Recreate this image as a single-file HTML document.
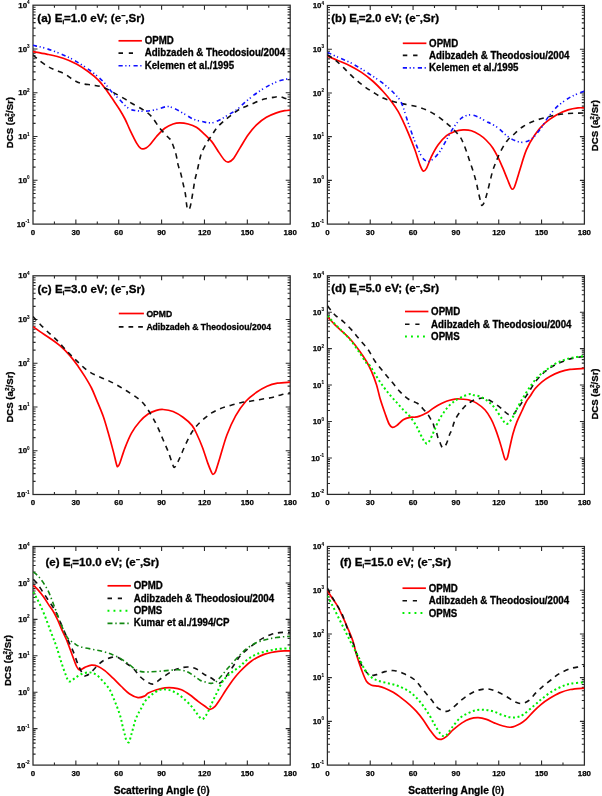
<!DOCTYPE html>
<html><head><meta charset="utf-8"><style>
html,body{margin:0;padding:0;background:#fff;}
svg{display:block;will-change:transform;}
text{font-family:"Liberation Sans", sans-serif;font-weight:bold;fill:#000;stroke:#000;stroke-width:0.3px;}
.t{font-size:7.9px;stroke-width:0.25px;}
.sup{font-size:4.6px;stroke-width:0.1px;}
.ti{font-size:11.6px;}
.sub{font-size:6px;}
.sup2{font-size:7px;}
.lg{font-size:9.7px;}
.yl{font-size:9.6px;}
.sub2{font-size:6px;}
.sup3{font-size:6px;}
.xl{font-size:10.2px;}
.th{font-weight:normal;}
</style></head><body>
<svg width="602" height="796" viewBox="0 0 602 796">
<defs><clipPath id="clipa"><rect x="33.0" y="4.2" width="257.2" height="219.9"/></clipPath><clipPath id="clipb"><rect x="327.4" y="4.5" width="257.0" height="219.6"/></clipPath><clipPath id="clipc"><rect x="33.0" y="274.8" width="257.2" height="219.7"/></clipPath><clipPath id="clipd"><rect x="327.4" y="274.75" width="257.0" height="219.64999999999998"/></clipPath><clipPath id="clipe"><rect x="33.0" y="545.5" width="257.2" height="219.60000000000002"/></clipPath><clipPath id="clipf"><rect x="327.4" y="545.5" width="257.0" height="219.60000000000002"/></clipPath></defs>
<rect width="602" height="796" fill="#fff"/>
<rect x="33.00" y="5.20" width="257.20" height="218.90" fill="none" stroke="#2a2a2a" stroke-width="1.25"/>
<path d="M54.43 224.10v-2.6M54.43 5.20v2.6M75.87 224.10v-4.5M75.87 5.20v4.5M97.30 224.10v-2.6M97.30 5.20v2.6M118.73 224.10v-4.5M118.73 5.20v4.5M140.17 224.10v-2.6M140.17 5.20v2.6M161.60 224.10v-4.5M161.60 5.20v4.5M183.03 224.10v-2.6M183.03 5.20v2.6M204.47 224.10v-4.5M204.47 5.20v4.5M225.90 224.10v-2.6M225.90 5.20v2.6M247.33 224.10v-4.5M247.33 5.20v4.5M268.77 224.10v-2.6M268.77 5.20v2.6M33.00 210.92h2.6M290.20 210.92h-2.6M33.00 203.21h2.6M290.20 203.21h-2.6M33.00 197.74h2.6M290.20 197.74h-2.6M33.00 193.50h2.6M290.20 193.50h-2.6M33.00 190.03h2.6M290.20 190.03h-2.6M33.00 187.10h2.6M290.20 187.10h-2.6M33.00 184.56h2.6M290.20 184.56h-2.6M33.00 182.32h2.6M290.20 182.32h-2.6M33.00 180.32h4.5M290.20 180.32h-4.5M33.00 167.14h2.6M290.20 167.14h-2.6M33.00 159.43h2.6M290.20 159.43h-2.6M33.00 153.96h2.6M290.20 153.96h-2.6M33.00 149.72h2.6M290.20 149.72h-2.6M33.00 146.25h2.6M290.20 146.25h-2.6M33.00 143.32h2.6M290.20 143.32h-2.6M33.00 140.78h2.6M290.20 140.78h-2.6M33.00 138.54h2.6M290.20 138.54h-2.6M33.00 136.54h4.5M290.20 136.54h-4.5M33.00 123.36h2.6M290.20 123.36h-2.6M33.00 115.65h2.6M290.20 115.65h-2.6M33.00 110.18h2.6M290.20 110.18h-2.6M33.00 105.94h2.6M290.20 105.94h-2.6M33.00 102.47h2.6M290.20 102.47h-2.6M33.00 99.54h2.6M290.20 99.54h-2.6M33.00 97.00h2.6M290.20 97.00h-2.6M33.00 94.76h2.6M290.20 94.76h-2.6M33.00 92.76h4.5M290.20 92.76h-4.5M33.00 79.58h2.6M290.20 79.58h-2.6M33.00 71.87h2.6M290.20 71.87h-2.6M33.00 66.40h2.6M290.20 66.40h-2.6M33.00 62.16h2.6M290.20 62.16h-2.6M33.00 58.69h2.6M290.20 58.69h-2.6M33.00 55.76h2.6M290.20 55.76h-2.6M33.00 53.22h2.6M290.20 53.22h-2.6M33.00 50.98h2.6M290.20 50.98h-2.6M33.00 48.98h4.5M290.20 48.98h-4.5M33.00 35.80h2.6M290.20 35.80h-2.6M33.00 28.09h2.6M290.20 28.09h-2.6M33.00 22.62h2.6M290.20 22.62h-2.6M33.00 18.38h2.6M290.20 18.38h-2.6M33.00 14.91h2.6M290.20 14.91h-2.6M33.00 11.98h2.6M290.20 11.98h-2.6M33.00 9.44h2.6M290.20 9.44h-2.6M33.00 7.20h2.6M290.20 7.20h-2.6" stroke="#2a2a2a" stroke-width="1.1" fill="none"/>
<text x="33.00" y="234.60" text-anchor="middle" class="t">0</text>
<text x="75.87" y="234.60" text-anchor="middle" class="t">30</text>
<text x="118.73" y="234.60" text-anchor="middle" class="t">60</text>
<text x="161.60" y="234.60" text-anchor="middle" class="t">90</text>
<text x="204.47" y="234.60" text-anchor="middle" class="t">120</text>
<text x="247.33" y="234.60" text-anchor="middle" class="t">150</text>
<text x="290.20" y="234.60" text-anchor="middle" class="t">180</text>
<text x="29.60" y="226.70" text-anchor="end" class="t">10<tspan class="sup" dy="-3.6">-1</tspan></text>
<text x="29.60" y="182.92" text-anchor="end" class="t">10<tspan class="sup" dy="-3.6">0</tspan></text>
<text x="29.60" y="139.14" text-anchor="end" class="t">10<tspan class="sup" dy="-3.6">1</tspan></text>
<text x="29.60" y="95.36" text-anchor="end" class="t">10<tspan class="sup" dy="-3.6">2</tspan></text>
<text x="29.60" y="51.58" text-anchor="end" class="t">10<tspan class="sup" dy="-3.6">3</tspan></text>
<text x="29.60" y="7.80" text-anchor="end" class="t">10<tspan class="sup" dy="-3.6">4</tspan></text>
<rect x="327.40" y="5.50" width="257.00" height="218.60" fill="none" stroke="#2a2a2a" stroke-width="1.25"/>
<path d="M348.82 224.10v-2.6M348.82 5.50v2.6M370.23 224.10v-4.5M370.23 5.50v4.5M391.65 224.10v-2.6M391.65 5.50v2.6M413.07 224.10v-4.5M413.07 5.50v4.5M434.48 224.10v-2.6M434.48 5.50v2.6M455.90 224.10v-4.5M455.90 5.50v4.5M477.32 224.10v-2.6M477.32 5.50v2.6M498.73 224.10v-4.5M498.73 5.50v4.5M520.15 224.10v-2.6M520.15 5.50v2.6M541.57 224.10v-4.5M541.57 5.50v4.5M562.98 224.10v-2.6M562.98 5.50v2.6M327.40 210.94h2.6M584.40 210.94h-2.6M327.40 203.24h2.6M584.40 203.24h-2.6M327.40 197.78h2.6M584.40 197.78h-2.6M327.40 193.54h2.6M584.40 193.54h-2.6M327.40 190.08h2.6M584.40 190.08h-2.6M327.40 187.15h2.6M584.40 187.15h-2.6M327.40 184.62h2.6M584.40 184.62h-2.6M327.40 182.38h2.6M584.40 182.38h-2.6M327.40 180.38h4.5M584.40 180.38h-4.5M327.40 167.22h2.6M584.40 167.22h-2.6M327.40 159.52h2.6M584.40 159.52h-2.6M327.40 154.06h2.6M584.40 154.06h-2.6M327.40 149.82h2.6M584.40 149.82h-2.6M327.40 146.36h2.6M584.40 146.36h-2.6M327.40 143.43h2.6M584.40 143.43h-2.6M327.40 140.90h2.6M584.40 140.90h-2.6M327.40 138.66h2.6M584.40 138.66h-2.6M327.40 136.66h4.5M584.40 136.66h-4.5M327.40 123.50h2.6M584.40 123.50h-2.6M327.40 115.80h2.6M584.40 115.80h-2.6M327.40 110.34h2.6M584.40 110.34h-2.6M327.40 106.10h2.6M584.40 106.10h-2.6M327.40 102.64h2.6M584.40 102.64h-2.6M327.40 99.71h2.6M584.40 99.71h-2.6M327.40 97.18h2.6M584.40 97.18h-2.6M327.40 94.94h2.6M584.40 94.94h-2.6M327.40 92.94h4.5M584.40 92.94h-4.5M327.40 79.78h2.6M584.40 79.78h-2.6M327.40 72.08h2.6M584.40 72.08h-2.6M327.40 66.62h2.6M584.40 66.62h-2.6M327.40 62.38h2.6M584.40 62.38h-2.6M327.40 58.92h2.6M584.40 58.92h-2.6M327.40 55.99h2.6M584.40 55.99h-2.6M327.40 53.46h2.6M584.40 53.46h-2.6M327.40 51.22h2.6M584.40 51.22h-2.6M327.40 49.22h4.5M584.40 49.22h-4.5M327.40 36.06h2.6M584.40 36.06h-2.6M327.40 28.36h2.6M584.40 28.36h-2.6M327.40 22.90h2.6M584.40 22.90h-2.6M327.40 18.66h2.6M584.40 18.66h-2.6M327.40 15.20h2.6M584.40 15.20h-2.6M327.40 12.27h2.6M584.40 12.27h-2.6M327.40 9.74h2.6M584.40 9.74h-2.6M327.40 7.50h2.6M584.40 7.50h-2.6" stroke="#2a2a2a" stroke-width="1.1" fill="none"/>
<text x="327.40" y="234.60" text-anchor="middle" class="t">0</text>
<text x="370.23" y="234.60" text-anchor="middle" class="t">30</text>
<text x="413.07" y="234.60" text-anchor="middle" class="t">60</text>
<text x="455.90" y="234.60" text-anchor="middle" class="t">90</text>
<text x="498.73" y="234.60" text-anchor="middle" class="t">120</text>
<text x="541.57" y="234.60" text-anchor="middle" class="t">150</text>
<text x="584.40" y="234.60" text-anchor="middle" class="t">180</text>
<text x="324.00" y="226.70" text-anchor="end" class="t">10<tspan class="sup" dy="-3.6">-1</tspan></text>
<text x="324.00" y="182.98" text-anchor="end" class="t">10<tspan class="sup" dy="-3.6">0</tspan></text>
<text x="324.00" y="139.26" text-anchor="end" class="t">10<tspan class="sup" dy="-3.6">1</tspan></text>
<text x="324.00" y="95.54" text-anchor="end" class="t">10<tspan class="sup" dy="-3.6">2</tspan></text>
<text x="324.00" y="51.82" text-anchor="end" class="t">10<tspan class="sup" dy="-3.6">3</tspan></text>
<text x="324.00" y="8.10" text-anchor="end" class="t">10<tspan class="sup" dy="-3.6">4</tspan></text>
<rect x="33.00" y="275.80" width="257.20" height="218.70" fill="none" stroke="#2a2a2a" stroke-width="1.25"/>
<path d="M54.43 494.50v-2.6M54.43 275.80v2.6M75.87 494.50v-4.5M75.87 275.80v4.5M97.30 494.50v-2.6M97.30 275.80v2.6M118.73 494.50v-4.5M118.73 275.80v4.5M140.17 494.50v-2.6M140.17 275.80v2.6M161.60 494.50v-4.5M161.60 275.80v4.5M183.03 494.50v-2.6M183.03 275.80v2.6M204.47 494.50v-4.5M204.47 275.80v4.5M225.90 494.50v-2.6M225.90 275.80v2.6M247.33 494.50v-4.5M247.33 275.80v4.5M268.77 494.50v-2.6M268.77 275.80v2.6M33.00 481.33h2.6M290.20 481.33h-2.6M33.00 473.63h2.6M290.20 473.63h-2.6M33.00 468.17h2.6M290.20 468.17h-2.6M33.00 463.93h2.6M290.20 463.93h-2.6M33.00 460.46h2.6M290.20 460.46h-2.6M33.00 457.54h2.6M290.20 457.54h-2.6M33.00 455.00h2.6M290.20 455.00h-2.6M33.00 452.76h2.6M290.20 452.76h-2.6M33.00 450.76h4.5M290.20 450.76h-4.5M33.00 437.59h2.6M290.20 437.59h-2.6M33.00 429.89h2.6M290.20 429.89h-2.6M33.00 424.43h2.6M290.20 424.43h-2.6M33.00 420.19h2.6M290.20 420.19h-2.6M33.00 416.72h2.6M290.20 416.72h-2.6M33.00 413.80h2.6M290.20 413.80h-2.6M33.00 411.26h2.6M290.20 411.26h-2.6M33.00 409.02h2.6M290.20 409.02h-2.6M33.00 407.02h4.5M290.20 407.02h-4.5M33.00 393.85h2.6M290.20 393.85h-2.6M33.00 386.15h2.6M290.20 386.15h-2.6M33.00 380.69h2.6M290.20 380.69h-2.6M33.00 376.45h2.6M290.20 376.45h-2.6M33.00 372.98h2.6M290.20 372.98h-2.6M33.00 370.06h2.6M290.20 370.06h-2.6M33.00 367.52h2.6M290.20 367.52h-2.6M33.00 365.28h2.6M290.20 365.28h-2.6M33.00 363.28h4.5M290.20 363.28h-4.5M33.00 350.11h2.6M290.20 350.11h-2.6M33.00 342.41h2.6M290.20 342.41h-2.6M33.00 336.95h2.6M290.20 336.95h-2.6M33.00 332.71h2.6M290.20 332.71h-2.6M33.00 329.24h2.6M290.20 329.24h-2.6M33.00 326.32h2.6M290.20 326.32h-2.6M33.00 323.78h2.6M290.20 323.78h-2.6M33.00 321.54h2.6M290.20 321.54h-2.6M33.00 319.54h4.5M290.20 319.54h-4.5M33.00 306.37h2.6M290.20 306.37h-2.6M33.00 298.67h2.6M290.20 298.67h-2.6M33.00 293.21h2.6M290.20 293.21h-2.6M33.00 288.97h2.6M290.20 288.97h-2.6M33.00 285.50h2.6M290.20 285.50h-2.6M33.00 282.58h2.6M290.20 282.58h-2.6M33.00 280.04h2.6M290.20 280.04h-2.6M33.00 277.80h2.6M290.20 277.80h-2.6" stroke="#2a2a2a" stroke-width="1.1" fill="none"/>
<text x="33.00" y="505.00" text-anchor="middle" class="t">0</text>
<text x="75.87" y="505.00" text-anchor="middle" class="t">30</text>
<text x="118.73" y="505.00" text-anchor="middle" class="t">60</text>
<text x="161.60" y="505.00" text-anchor="middle" class="t">90</text>
<text x="204.47" y="505.00" text-anchor="middle" class="t">120</text>
<text x="247.33" y="505.00" text-anchor="middle" class="t">150</text>
<text x="290.20" y="505.00" text-anchor="middle" class="t">180</text>
<text x="29.60" y="497.10" text-anchor="end" class="t">10<tspan class="sup" dy="-3.6">-1</tspan></text>
<text x="29.60" y="453.36" text-anchor="end" class="t">10<tspan class="sup" dy="-3.6">0</tspan></text>
<text x="29.60" y="409.62" text-anchor="end" class="t">10<tspan class="sup" dy="-3.6">1</tspan></text>
<text x="29.60" y="365.88" text-anchor="end" class="t">10<tspan class="sup" dy="-3.6">2</tspan></text>
<text x="29.60" y="322.14" text-anchor="end" class="t">10<tspan class="sup" dy="-3.6">3</tspan></text>
<text x="29.60" y="278.40" text-anchor="end" class="t">10<tspan class="sup" dy="-3.6">4</tspan></text>
<rect x="327.40" y="275.75" width="257.00" height="218.65" fill="none" stroke="#2a2a2a" stroke-width="1.25"/>
<path d="M348.82 494.40v-2.6M348.82 275.75v2.6M370.23 494.40v-4.5M370.23 275.75v4.5M391.65 494.40v-2.6M391.65 275.75v2.6M413.07 494.40v-4.5M413.07 275.75v4.5M434.48 494.40v-2.6M434.48 275.75v2.6M455.90 494.40v-4.5M455.90 275.75v4.5M477.32 494.40v-2.6M477.32 275.75v2.6M498.73 494.40v-4.5M498.73 275.75v4.5M520.15 494.40v-2.6M520.15 275.75v2.6M541.57 494.40v-4.5M541.57 275.75v4.5M562.98 494.40v-2.6M562.98 275.75v2.6M327.40 483.43h2.6M584.40 483.43h-2.6M327.40 477.01h2.6M584.40 477.01h-2.6M327.40 472.46h2.6M584.40 472.46h-2.6M327.40 468.93h2.6M584.40 468.93h-2.6M327.40 466.04h2.6M584.40 466.04h-2.6M327.40 463.60h2.6M584.40 463.60h-2.6M327.40 461.49h2.6M584.40 461.49h-2.6M327.40 459.63h2.6M584.40 459.63h-2.6M327.40 457.96h4.5M584.40 457.96h-4.5M327.40 446.99h2.6M584.40 446.99h-2.6M327.40 440.57h2.6M584.40 440.57h-2.6M327.40 436.02h2.6M584.40 436.02h-2.6M327.40 432.49h2.6M584.40 432.49h-2.6M327.40 429.60h2.6M584.40 429.60h-2.6M327.40 427.16h2.6M584.40 427.16h-2.6M327.40 425.05h2.6M584.40 425.05h-2.6M327.40 423.18h2.6M584.40 423.18h-2.6M327.40 421.52h4.5M584.40 421.52h-4.5M327.40 410.55h2.6M584.40 410.55h-2.6M327.40 404.13h2.6M584.40 404.13h-2.6M327.40 399.58h2.6M584.40 399.58h-2.6M327.40 396.05h2.6M584.40 396.05h-2.6M327.40 393.16h2.6M584.40 393.16h-2.6M327.40 390.72h2.6M584.40 390.72h-2.6M327.40 388.61h2.6M584.40 388.61h-2.6M327.40 386.74h2.6M584.40 386.74h-2.6M327.40 385.07h4.5M584.40 385.07h-4.5M327.40 374.10h2.6M584.40 374.10h-2.6M327.40 367.69h2.6M584.40 367.69h-2.6M327.40 363.13h2.6M584.40 363.13h-2.6M327.40 359.60h2.6M584.40 359.60h-2.6M327.40 356.72h2.6M584.40 356.72h-2.6M327.40 354.28h2.6M584.40 354.28h-2.6M327.40 352.16h2.6M584.40 352.16h-2.6M327.40 350.30h2.6M584.40 350.30h-2.6M327.40 348.63h4.5M584.40 348.63h-4.5M327.40 337.66h2.6M584.40 337.66h-2.6M327.40 331.25h2.6M584.40 331.25h-2.6M327.40 326.69h2.6M584.40 326.69h-2.6M327.40 323.16h2.6M584.40 323.16h-2.6M327.40 320.28h2.6M584.40 320.28h-2.6M327.40 317.84h2.6M584.40 317.84h-2.6M327.40 315.72h2.6M584.40 315.72h-2.6M327.40 313.86h2.6M584.40 313.86h-2.6M327.40 312.19h4.5M584.40 312.19h-4.5M327.40 301.22h2.6M584.40 301.22h-2.6M327.40 294.80h2.6M584.40 294.80h-2.6M327.40 290.25h2.6M584.40 290.25h-2.6M327.40 286.72h2.6M584.40 286.72h-2.6M327.40 283.83h2.6M584.40 283.83h-2.6M327.40 281.39h2.6M584.40 281.39h-2.6M327.40 279.28h2.6M584.40 279.28h-2.6M327.40 277.42h2.6M584.40 277.42h-2.6" stroke="#2a2a2a" stroke-width="1.1" fill="none"/>
<text x="327.40" y="504.90" text-anchor="middle" class="t">0</text>
<text x="370.23" y="504.90" text-anchor="middle" class="t">30</text>
<text x="413.07" y="504.90" text-anchor="middle" class="t">60</text>
<text x="455.90" y="504.90" text-anchor="middle" class="t">90</text>
<text x="498.73" y="504.90" text-anchor="middle" class="t">120</text>
<text x="541.57" y="504.90" text-anchor="middle" class="t">150</text>
<text x="584.40" y="504.90" text-anchor="middle" class="t">180</text>
<text x="324.00" y="497.00" text-anchor="end" class="t">10<tspan class="sup" dy="-3.6">-2</tspan></text>
<text x="324.00" y="460.56" text-anchor="end" class="t">10<tspan class="sup" dy="-3.6">-1</tspan></text>
<text x="324.00" y="424.12" text-anchor="end" class="t">10<tspan class="sup" dy="-3.6">0</tspan></text>
<text x="324.00" y="387.68" text-anchor="end" class="t">10<tspan class="sup" dy="-3.6">1</tspan></text>
<text x="324.00" y="351.23" text-anchor="end" class="t">10<tspan class="sup" dy="-3.6">2</tspan></text>
<text x="324.00" y="314.79" text-anchor="end" class="t">10<tspan class="sup" dy="-3.6">3</tspan></text>
<text x="324.00" y="278.35" text-anchor="end" class="t">10<tspan class="sup" dy="-3.6">4</tspan></text>
<rect x="33.00" y="546.50" width="257.20" height="218.60" fill="none" stroke="#2a2a2a" stroke-width="1.25"/>
<path d="M54.43 765.10v-2.6M54.43 546.50v2.6M75.87 765.10v-4.5M75.87 546.50v4.5M97.30 765.10v-2.6M97.30 546.50v2.6M118.73 765.10v-4.5M118.73 546.50v4.5M140.17 765.10v-2.6M140.17 546.50v2.6M161.60 765.10v-4.5M161.60 546.50v4.5M183.03 765.10v-2.6M183.03 546.50v2.6M204.47 765.10v-4.5M204.47 546.50v4.5M225.90 765.10v-2.6M225.90 546.50v2.6M247.33 765.10v-4.5M247.33 546.50v4.5M268.77 765.10v-2.6M268.77 546.50v2.6M33.00 754.13h2.6M290.20 754.13h-2.6M33.00 747.72h2.6M290.20 747.72h-2.6M33.00 743.16h2.6M290.20 743.16h-2.6M33.00 739.63h2.6M290.20 739.63h-2.6M33.00 736.75h2.6M290.20 736.75h-2.6M33.00 734.31h2.6M290.20 734.31h-2.6M33.00 732.20h2.6M290.20 732.20h-2.6M33.00 730.33h2.6M290.20 730.33h-2.6M33.00 728.67h4.5M290.20 728.67h-4.5M33.00 717.70h2.6M290.20 717.70h-2.6M33.00 711.28h2.6M290.20 711.28h-2.6M33.00 706.73h2.6M290.20 706.73h-2.6M33.00 703.20h2.6M290.20 703.20h-2.6M33.00 700.32h2.6M290.20 700.32h-2.6M33.00 697.88h2.6M290.20 697.88h-2.6M33.00 695.76h2.6M290.20 695.76h-2.6M33.00 693.90h2.6M290.20 693.90h-2.6M33.00 692.23h4.5M290.20 692.23h-4.5M33.00 681.27h2.6M290.20 681.27h-2.6M33.00 674.85h2.6M290.20 674.85h-2.6M33.00 670.30h2.6M290.20 670.30h-2.6M33.00 666.77h2.6M290.20 666.77h-2.6M33.00 663.88h2.6M290.20 663.88h-2.6M33.00 661.44h2.6M290.20 661.44h-2.6M33.00 659.33h2.6M290.20 659.33h-2.6M33.00 657.47h2.6M290.20 657.47h-2.6M33.00 655.80h4.5M290.20 655.80h-4.5M33.00 644.83h2.6M290.20 644.83h-2.6M33.00 638.42h2.6M290.20 638.42h-2.6M33.00 633.86h2.6M290.20 633.86h-2.6M33.00 630.33h2.6M290.20 630.33h-2.6M33.00 627.45h2.6M290.20 627.45h-2.6M33.00 625.01h2.6M290.20 625.01h-2.6M33.00 622.90h2.6M290.20 622.90h-2.6M33.00 621.03h2.6M290.20 621.03h-2.6M33.00 619.37h4.5M290.20 619.37h-4.5M33.00 608.40h2.6M290.20 608.40h-2.6M33.00 601.98h2.6M290.20 601.98h-2.6M33.00 597.43h2.6M290.20 597.43h-2.6M33.00 593.90h2.6M290.20 593.90h-2.6M33.00 591.02h2.6M290.20 591.02h-2.6M33.00 588.58h2.6M290.20 588.58h-2.6M33.00 586.46h2.6M290.20 586.46h-2.6M33.00 584.60h2.6M290.20 584.60h-2.6M33.00 582.93h4.5M290.20 582.93h-4.5M33.00 571.97h2.6M290.20 571.97h-2.6M33.00 565.55h2.6M290.20 565.55h-2.6M33.00 561.00h2.6M290.20 561.00h-2.6M33.00 557.47h2.6M290.20 557.47h-2.6M33.00 554.58h2.6M290.20 554.58h-2.6M33.00 552.14h2.6M290.20 552.14h-2.6M33.00 550.03h2.6M290.20 550.03h-2.6M33.00 548.17h2.6M290.20 548.17h-2.6" stroke="#2a2a2a" stroke-width="1.1" fill="none"/>
<text x="33.00" y="775.60" text-anchor="middle" class="t">0</text>
<text x="75.87" y="775.60" text-anchor="middle" class="t">30</text>
<text x="118.73" y="775.60" text-anchor="middle" class="t">60</text>
<text x="161.60" y="775.60" text-anchor="middle" class="t">90</text>
<text x="204.47" y="775.60" text-anchor="middle" class="t">120</text>
<text x="247.33" y="775.60" text-anchor="middle" class="t">150</text>
<text x="290.20" y="775.60" text-anchor="middle" class="t">180</text>
<text x="29.60" y="767.70" text-anchor="end" class="t">10<tspan class="sup" dy="-3.6">-2</tspan></text>
<text x="29.60" y="731.27" text-anchor="end" class="t">10<tspan class="sup" dy="-3.6">-1</tspan></text>
<text x="29.60" y="694.83" text-anchor="end" class="t">10<tspan class="sup" dy="-3.6">0</tspan></text>
<text x="29.60" y="658.40" text-anchor="end" class="t">10<tspan class="sup" dy="-3.6">1</tspan></text>
<text x="29.60" y="621.97" text-anchor="end" class="t">10<tspan class="sup" dy="-3.6">2</tspan></text>
<text x="29.60" y="585.53" text-anchor="end" class="t">10<tspan class="sup" dy="-3.6">3</tspan></text>
<text x="29.60" y="549.10" text-anchor="end" class="t">10<tspan class="sup" dy="-3.6">4</tspan></text>
<rect x="327.40" y="546.50" width="257.00" height="218.60" fill="none" stroke="#2a2a2a" stroke-width="1.25"/>
<path d="M348.82 765.10v-2.6M348.82 546.50v2.6M370.23 765.10v-4.5M370.23 546.50v4.5M391.65 765.10v-2.6M391.65 546.50v2.6M413.07 765.10v-4.5M413.07 546.50v4.5M434.48 765.10v-2.6M434.48 546.50v2.6M455.90 765.10v-4.5M455.90 546.50v4.5M477.32 765.10v-2.6M477.32 546.50v2.6M498.73 765.10v-4.5M498.73 546.50v4.5M520.15 765.10v-2.6M520.15 546.50v2.6M541.57 765.10v-4.5M541.57 546.50v4.5M562.98 765.10v-2.6M562.98 546.50v2.6M327.40 751.94h2.6M584.40 751.94h-2.6M327.40 744.24h2.6M584.40 744.24h-2.6M327.40 738.78h2.6M584.40 738.78h-2.6M327.40 734.54h2.6M584.40 734.54h-2.6M327.40 731.08h2.6M584.40 731.08h-2.6M327.40 728.15h2.6M584.40 728.15h-2.6M327.40 725.62h2.6M584.40 725.62h-2.6M327.40 723.38h2.6M584.40 723.38h-2.6M327.40 721.38h4.5M584.40 721.38h-4.5M327.40 708.22h2.6M584.40 708.22h-2.6M327.40 700.52h2.6M584.40 700.52h-2.6M327.40 695.06h2.6M584.40 695.06h-2.6M327.40 690.82h2.6M584.40 690.82h-2.6M327.40 687.36h2.6M584.40 687.36h-2.6M327.40 684.43h2.6M584.40 684.43h-2.6M327.40 681.90h2.6M584.40 681.90h-2.6M327.40 679.66h2.6M584.40 679.66h-2.6M327.40 677.66h4.5M584.40 677.66h-4.5M327.40 664.50h2.6M584.40 664.50h-2.6M327.40 656.80h2.6M584.40 656.80h-2.6M327.40 651.34h2.6M584.40 651.34h-2.6M327.40 647.10h2.6M584.40 647.10h-2.6M327.40 643.64h2.6M584.40 643.64h-2.6M327.40 640.71h2.6M584.40 640.71h-2.6M327.40 638.18h2.6M584.40 638.18h-2.6M327.40 635.94h2.6M584.40 635.94h-2.6M327.40 633.94h4.5M584.40 633.94h-4.5M327.40 620.78h2.6M584.40 620.78h-2.6M327.40 613.08h2.6M584.40 613.08h-2.6M327.40 607.62h2.6M584.40 607.62h-2.6M327.40 603.38h2.6M584.40 603.38h-2.6M327.40 599.92h2.6M584.40 599.92h-2.6M327.40 596.99h2.6M584.40 596.99h-2.6M327.40 594.46h2.6M584.40 594.46h-2.6M327.40 592.22h2.6M584.40 592.22h-2.6M327.40 590.22h4.5M584.40 590.22h-4.5M327.40 577.06h2.6M584.40 577.06h-2.6M327.40 569.36h2.6M584.40 569.36h-2.6M327.40 563.90h2.6M584.40 563.90h-2.6M327.40 559.66h2.6M584.40 559.66h-2.6M327.40 556.20h2.6M584.40 556.20h-2.6M327.40 553.27h2.6M584.40 553.27h-2.6M327.40 550.74h2.6M584.40 550.74h-2.6M327.40 548.50h2.6M584.40 548.50h-2.6" stroke="#2a2a2a" stroke-width="1.1" fill="none"/>
<text x="327.40" y="775.60" text-anchor="middle" class="t">0</text>
<text x="370.23" y="775.60" text-anchor="middle" class="t">30</text>
<text x="413.07" y="775.60" text-anchor="middle" class="t">60</text>
<text x="455.90" y="775.60" text-anchor="middle" class="t">90</text>
<text x="498.73" y="775.60" text-anchor="middle" class="t">120</text>
<text x="541.57" y="775.60" text-anchor="middle" class="t">150</text>
<text x="584.40" y="775.60" text-anchor="middle" class="t">180</text>
<text x="324.00" y="767.70" text-anchor="end" class="t">10<tspan class="sup" dy="-3.6">-1</tspan></text>
<text x="324.00" y="723.98" text-anchor="end" class="t">10<tspan class="sup" dy="-3.6">0</tspan></text>
<text x="324.00" y="680.26" text-anchor="end" class="t">10<tspan class="sup" dy="-3.6">1</tspan></text>
<text x="324.00" y="636.54" text-anchor="end" class="t">10<tspan class="sup" dy="-3.6">2</tspan></text>
<text x="324.00" y="592.82" text-anchor="end" class="t">10<tspan class="sup" dy="-3.6">3</tspan></text>
<text x="324.00" y="549.10" text-anchor="end" class="t">10<tspan class="sup" dy="-3.6">4</tspan></text>
<text x="37.30" y="21.70" class="ti">(a) E<tspan class="sub" dy="2.6">i</tspan><tspan dy="-2.6">=1.0 eV; (e</tspan><tspan class="sup2" dy="-3.8">−</tspan><tspan dy="3.8">,Sr)</tspan></text>
<text x="331.20" y="21.70" class="ti">(b) E<tspan class="sub" dy="2.6">i</tspan><tspan dy="-2.6">=2.0 eV; (e</tspan><tspan class="sup2" dy="-3.8">−</tspan><tspan dy="3.8">,Sr)</tspan></text>
<text x="37.50" y="292.60" class="ti">(c) E<tspan class="sub" dy="2.6">i</tspan><tspan dy="-2.6">=3.0 eV; (e</tspan><tspan class="sup2" dy="-3.8">−</tspan><tspan dy="3.8">,Sr)</tspan></text>
<text x="331.20" y="292.40" class="ti">(d) E<tspan class="sub" dy="2.6">i</tspan><tspan dy="-2.6">=5.0 eV; (e</tspan><tspan class="sup2" dy="-3.8">−</tspan><tspan dy="3.8">,Sr)</tspan></text>
<text x="45.50" y="565.70" class="ti">(e) E<tspan class="sub" dy="2.6">i</tspan><tspan dy="-2.6">=10.0 eV; (e</tspan><tspan class="sup2" dy="-3.8">−</tspan><tspan dy="3.8">,Sr)</tspan></text>
<text x="340.00" y="565.70" class="ti">(f) E<tspan class="sub" dy="2.6">i</tspan><tspan dy="-2.6">=15.0 eV; (e</tspan><tspan class="sup2" dy="-3.8">−</tspan><tspan dy="3.8">,Sr)</tspan></text>
<line x1="118.50" y1="40.80" x2="141.90" y2="40.80" stroke="#ff0000" stroke-width="1.7" fill="none"/>
<text transform="translate(144.70,44.00) scale(1,1.04)" class="lg" style="font-size:9.7px">OPMD</text>
<line x1="118.50" y1="53.10" x2="133.00" y2="53.10" stroke="#111" stroke-width="1.6" fill="none" stroke-dasharray="4.5 5.8"/>
<text transform="translate(144.70,56.30) scale(1,1.04)" class="lg" style="font-size:9.7px">Adibzadeh &amp; Theodosiou/2004</text>
<line x1="118.50" y1="65.70" x2="141.90" y2="65.70" stroke="#1010ff" stroke-width="1.6" fill="none" stroke-dasharray="4.2 2.6 1.2 2.4 1.2 3.4"/>
<text transform="translate(144.70,68.50) scale(1,1.04)" class="lg" style="font-size:9.7px">Kelemen et al./1995</text>
<line x1="402.80" y1="43.30" x2="426.40" y2="43.30" stroke="#ff0000" stroke-width="1.7" fill="none"/>
<text transform="translate(429.10,46.50) scale(1,1.04)" class="lg" style="font-size:9.7px">OPMD</text>
<line x1="402.80" y1="55.40" x2="417.50" y2="55.40" stroke="#111" stroke-width="1.6" fill="none" stroke-dasharray="4.5 5.8"/>
<text transform="translate(429.10,58.50) scale(1,1.04)" class="lg" style="font-size:9.7px">Adibzadeh &amp; Theodosiou/2004</text>
<line x1="402.80" y1="67.90" x2="426.40" y2="67.90" stroke="#1010ff" stroke-width="1.6" fill="none" stroke-dasharray="4.2 2.6 1.2 2.4 1.2 3.4"/>
<text transform="translate(429.10,70.90) scale(1,1.04)" class="lg" style="font-size:9.7px">Kelemen et al./1995</text>
<line x1="118.80" y1="313.50" x2="143.90" y2="313.50" stroke="#ff0000" stroke-width="1.7" fill="none"/>
<text transform="translate(146.40,317.20) scale(1,1.04)" class="lg" style="font-size:8.6px">OPMD</text>
<line x1="118.80" y1="326.90" x2="143.90" y2="326.90" stroke="#111" stroke-width="1.6" fill="none" stroke-dasharray="4.7 5"/>
<text transform="translate(146.40,330.40) scale(1,1.04)" class="lg" style="font-size:8.6px">Adibzadeh &amp; Theodosiou/2004</text>
<line x1="405.00" y1="311.50" x2="428.40" y2="311.50" stroke="#ff0000" stroke-width="1.7" fill="none"/>
<text transform="translate(431.10,315.00) scale(1,1.04)" class="lg" style="font-size:9.7px">OPMD</text>
<line x1="405.00" y1="324.20" x2="419.50" y2="324.20" stroke="#111" stroke-width="1.6" fill="none" stroke-dasharray="4.5 5.8"/>
<text transform="translate(431.10,327.90) scale(1,1.04)" class="lg" style="font-size:9.7px">Adibzadeh &amp; Theodosiou/2004</text>
<line x1="405.00" y1="336.40" x2="428.40" y2="336.40" stroke="#00ee00" stroke-width="2.0" fill="none" stroke-dasharray="1.9 4.1"/>
<text transform="translate(431.10,339.90) scale(1,1.04)" class="lg" style="font-size:9.7px">OPMS</text>
<line x1="107.50" y1="585.80" x2="130.90" y2="585.80" stroke="#ff0000" stroke-width="1.7" fill="none"/>
<text transform="translate(133.70,589.20) scale(1,1.04)" class="lg" style="font-size:9.7px">OPMD</text>
<line x1="107.50" y1="598.40" x2="122.00" y2="598.40" stroke="#111" stroke-width="1.6" fill="none" stroke-dasharray="4.5 5.8"/>
<text transform="translate(133.70,601.90) scale(1,1.04)" class="lg" style="font-size:9.7px">Adibzadeh &amp; Theodosiou/2004</text>
<line x1="107.50" y1="610.70" x2="130.90" y2="610.70" stroke="#00ee00" stroke-width="2.0" fill="none" stroke-dasharray="1.9 4.1"/>
<text transform="translate(133.70,614.10) scale(1,1.04)" class="lg" style="font-size:9.7px">OPMS</text>
<line x1="107.50" y1="623.40" x2="130.90" y2="623.40" stroke="#118811" stroke-width="1.6" fill="none" stroke-dasharray="5 2.8 1.4 2.8"/>
<text transform="translate(133.70,626.40) scale(1,1.04)" class="lg" style="font-size:9.7px">Kumar et al./1994/CP</text>
<line x1="402.50" y1="588.20" x2="425.90" y2="588.20" stroke="#ff0000" stroke-width="1.7" fill="none"/>
<text transform="translate(428.70,591.50) scale(1,1.04)" class="lg" style="font-size:9.7px">OPMD</text>
<line x1="402.50" y1="600.70" x2="417.00" y2="600.70" stroke="#111" stroke-width="1.6" fill="none" stroke-dasharray="4.5 5.8"/>
<text transform="translate(428.70,604.10) scale(1,1.04)" class="lg" style="font-size:9.7px">Adibzadeh &amp; Theodosiou/2004</text>
<line x1="402.50" y1="613.10" x2="425.90" y2="613.10" stroke="#00ee00" stroke-width="2.0" fill="none" stroke-dasharray="1.9 4.1"/>
<text transform="translate(428.70,616.70) scale(1,1.04)" class="lg" style="font-size:9.7px">OPMS</text>
<text transform="translate(13.00,122.60) rotate(-90)" text-anchor="middle" class="yl">DCS (a<tspan class="sub2" dy="2.2">0</tspan><tspan class="sup3" dx="-3" dy="-6">2</tspan><tspan dy="3.8">/Sr)</tspan></text>
<text transform="translate(598.00,125.60) rotate(-90)" text-anchor="middle" class="yl">DCS (a<tspan class="sub2" dy="2.2">0</tspan><tspan class="sup3" dx="-3" dy="-6">2</tspan><tspan dy="3.8">/Sr)</tspan></text>
<text transform="translate(13.00,397.00) rotate(-90)" text-anchor="middle" class="yl">DCS (a<tspan class="sub2" dy="2.2">0</tspan><tspan class="sup3" dx="-3" dy="-6">2</tspan><tspan dy="3.8">/Sr)</tspan></text>
<text transform="translate(597.50,394.00) rotate(-90)" text-anchor="middle" class="yl">DCS (a<tspan class="sub2" dy="2.2">0</tspan><tspan class="sup3" dx="-3" dy="-6">2</tspan><tspan dy="3.8">/Sr)</tspan></text>
<text transform="translate(11.00,660.50) rotate(-90)" text-anchor="middle" class="yl">DCS (a<tspan class="sub2" dy="2.2">0</tspan><tspan class="sup3" dx="-3" dy="-6">2</tspan><tspan dy="3.8">/Sr)</tspan></text>
<text x="161.6" y="793.6" text-anchor="middle" class="xl">Scattering Angle (<tspan class="th">θ</tspan>)</text>
<text x="456.2" y="793.6" text-anchor="middle" class="xl">Scattering Angle (<tspan class="th">θ</tspan>)</text>
<path d="M33.00 51.60C35.27 52.02 41.57 53.00 46.60 54.10C51.63 55.20 58.22 56.55 63.20 58.20C68.18 59.85 72.35 61.78 76.50 64.00C80.65 66.22 84.50 68.87 88.10 71.50C91.70 74.13 95.18 76.88 98.10 79.80C101.02 82.72 103.10 85.67 105.60 89.00C108.10 92.33 110.75 96.35 113.10 99.80C115.45 103.25 117.72 106.50 119.70 109.70C121.68 112.90 123.30 115.65 125.00 119.00C126.70 122.35 127.97 125.78 129.90 129.80C131.83 133.82 134.83 140.03 136.60 143.10C138.37 146.17 139.40 147.23 140.50 148.20C141.60 149.17 142.28 148.93 143.20 148.90C144.12 148.87 144.88 148.68 146.00 148.00C147.12 147.32 148.15 146.72 149.90 144.80C151.65 142.88 154.02 139.27 156.50 136.50C158.98 133.73 162.03 130.28 164.80 128.20C167.57 126.12 170.60 124.88 173.10 124.00C175.60 123.12 177.30 122.90 179.80 122.90C182.30 122.90 185.33 123.27 188.10 124.00C190.87 124.73 193.87 125.78 196.40 127.30C198.93 128.82 200.77 130.75 203.30 133.10C205.83 135.45 209.10 138.35 211.60 141.40C214.10 144.45 216.22 148.35 218.30 151.40C220.38 154.45 222.45 157.90 224.10 159.70C225.75 161.50 226.68 162.33 228.20 162.20C229.72 162.07 231.25 161.25 233.20 158.90C235.15 156.55 237.40 152.12 239.90 148.10C242.40 144.08 245.43 138.68 248.20 134.80C250.97 130.92 253.47 127.72 256.50 124.80C259.53 121.88 263.08 119.28 266.40 117.30C269.72 115.32 273.35 114.00 276.40 112.90C279.45 111.80 282.35 111.15 284.70 110.70C287.05 110.25 289.53 110.28 290.50 110.20" stroke="#ff0000" stroke-width="1.7" fill="none" clip-path="url(#clipa)"/>
<path d="M33.00 54.90C33.60 55.45 34.33 56.40 36.60 58.20C38.87 60.00 43.55 63.75 46.60 65.70C49.65 67.65 51.85 68.52 54.90 69.90C57.95 71.28 61.85 72.35 64.90 74.00C67.95 75.65 70.43 78.22 73.20 79.80C75.97 81.38 78.18 82.62 81.50 83.50C84.82 84.38 89.50 84.47 93.10 85.10C96.70 85.73 99.77 86.10 103.10 87.30C106.43 88.50 109.50 90.37 113.10 92.30C116.70 94.23 121.62 97.07 124.70 98.90C127.78 100.73 128.52 101.47 131.60 103.30C134.68 105.13 139.88 107.70 143.20 109.90C146.52 112.10 148.73 113.45 151.50 116.50C154.27 119.55 157.03 124.73 159.80 128.20C162.57 131.67 166.18 135.15 168.10 137.30C170.02 139.45 170.02 138.38 171.30 141.10C172.58 143.82 174.67 149.63 175.80 153.60C176.93 157.57 177.25 161.52 178.10 164.90C178.95 168.28 180.05 170.70 180.90 173.90C181.75 177.10 182.45 180.72 183.20 184.10C183.95 187.48 184.83 190.82 185.40 194.20C185.97 197.58 186.22 201.85 186.60 204.40C186.98 206.95 187.15 208.93 187.70 209.50C188.25 210.07 189.25 209.40 189.90 207.80C190.55 206.20 191.03 202.92 191.60 199.90C192.17 196.88 192.73 193.10 193.30 189.70C193.87 186.30 194.33 182.70 195.00 179.50C195.67 176.30 196.55 173.70 197.30 170.50C198.05 167.30 198.75 163.32 199.50 160.30C200.25 157.28 200.62 155.27 201.80 152.40C202.98 149.53 204.97 145.90 206.60 143.10C208.23 140.30 209.93 138.10 211.60 135.60C213.27 133.10 214.67 130.45 216.60 128.10C218.53 125.75 220.72 123.70 223.20 121.50C225.68 119.30 228.72 116.98 231.50 114.90C234.28 112.82 236.85 110.67 239.90 109.00C242.95 107.33 246.22 106.42 249.80 104.90C253.38 103.38 257.52 101.15 261.40 99.90C265.28 98.65 270.05 97.95 273.10 97.40C276.15 96.85 277.77 96.47 279.70 96.60C281.63 96.73 282.90 97.65 284.70 98.20C286.50 98.75 289.53 99.62 290.50 99.90" stroke="#111" stroke-width="1.6" fill="none" stroke-dasharray="5.2 4.8" clip-path="url(#clipa)"/>
<path d="M33.00 45.30C35.27 45.85 41.57 47.00 46.60 48.60C51.63 50.20 58.22 52.73 63.20 54.90C68.18 57.07 71.78 58.83 76.50 61.60C81.22 64.37 87.07 68.18 91.50 71.50C95.93 74.82 99.78 78.17 103.10 81.50C106.42 84.83 108.87 88.70 111.40 91.50C113.93 94.30 115.48 95.52 118.30 98.30C121.12 101.08 125.25 106.13 128.30 108.20C131.35 110.27 133.83 110.20 136.60 110.70C139.37 111.20 141.85 111.33 144.90 111.20C147.95 111.07 151.30 110.67 154.90 109.90C158.50 109.13 163.47 106.93 166.50 106.60C169.53 106.27 170.33 106.80 173.10 107.90C175.87 109.00 179.77 111.35 183.10 113.20C186.43 115.05 189.73 117.57 193.10 119.00C196.47 120.43 200.22 121.17 203.30 121.80C206.38 122.43 208.83 123.13 211.60 122.80C214.37 122.47 217.13 121.12 219.90 119.80C222.67 118.48 225.43 116.55 228.20 114.90C230.97 113.25 233.73 111.98 236.50 109.90C239.27 107.82 242.03 104.77 244.80 102.40C247.57 100.03 250.33 97.78 253.10 95.70C255.87 93.62 258.62 91.68 261.40 89.90C264.18 88.12 267.02 86.43 269.80 85.00C272.58 83.57 275.33 82.28 278.10 81.30C280.87 80.32 284.33 79.55 286.40 79.10C288.47 78.65 289.82 78.68 290.50 78.60" stroke="#1010ff" stroke-width="1.6" fill="none" stroke-dasharray="4.2 2.6 1.2 2.4 1.2 3.4" clip-path="url(#clipa)"/>
<path d="M327.50 56.20C329.30 56.95 334.57 59.12 338.30 60.70C342.03 62.28 346.03 63.75 349.90 65.70C353.77 67.65 357.62 69.77 361.50 72.40C365.38 75.03 369.60 78.32 373.20 81.50C376.80 84.68 380.07 88.18 383.10 91.50C386.13 94.82 388.90 98.08 391.40 101.40C393.90 104.72 396.15 108.07 398.10 111.40C400.05 114.73 401.40 117.77 403.10 121.40C404.80 125.03 406.33 128.47 408.30 133.20C410.27 137.93 412.97 144.53 414.90 149.80C416.83 155.07 418.52 161.25 419.90 164.80C421.28 168.35 422.08 170.55 423.20 171.10C424.32 171.65 425.22 170.55 426.60 168.10C427.98 165.65 429.57 160.28 431.50 156.40C433.43 152.52 435.70 148.25 438.20 144.80C440.70 141.35 443.73 137.92 446.50 135.70C449.27 133.48 452.03 132.47 454.80 131.50C457.57 130.53 460.33 130.03 463.10 129.90C465.87 129.77 468.63 129.87 471.40 130.70C474.17 131.53 477.27 133.35 479.70 134.90C482.13 136.45 483.82 137.83 486.00 140.00C488.18 142.17 490.73 144.88 492.80 147.90C494.87 150.92 496.72 154.72 498.40 158.10C500.08 161.48 501.38 164.63 502.90 168.20C504.42 171.77 506.18 176.28 507.50 179.50C508.82 182.72 510.02 185.88 510.80 187.50C511.58 189.12 511.63 189.20 512.20 189.20C512.77 189.20 513.30 189.48 514.20 187.50C515.10 185.52 516.65 180.27 517.60 177.30C518.55 174.33 518.42 174.30 519.90 169.70C521.38 165.10 524.00 155.52 526.50 149.70C529.00 143.88 531.85 139.22 534.90 134.80C537.95 130.38 541.22 126.52 544.80 123.20C548.38 119.88 552.52 117.12 556.40 114.90C560.28 112.68 564.50 111.07 568.10 109.90C571.70 108.73 575.28 108.23 578.00 107.90C580.72 107.57 583.33 107.90 584.40 107.90" stroke="#ff0000" stroke-width="1.7" fill="none" clip-path="url(#clipb)"/>
<path d="M327.50 54.90C328.75 55.73 332.37 57.82 335.00 59.90C337.63 61.98 340.27 64.50 343.30 67.40C346.33 70.30 349.88 74.27 353.20 77.30C356.52 80.33 359.87 83.10 363.20 85.60C366.53 88.10 369.88 90.22 373.20 92.30C376.52 94.38 379.78 96.58 383.10 98.10C386.42 99.62 389.77 100.43 393.10 101.40C396.43 102.37 399.18 103.03 403.10 103.90C407.02 104.77 412.42 105.45 416.60 106.60C420.78 107.75 424.60 109.13 428.20 110.80C431.80 112.47 435.15 114.53 438.20 116.60C441.25 118.67 444.02 121.13 446.50 123.20C448.98 125.27 450.88 126.78 453.10 129.00C455.32 131.22 458.08 134.10 459.80 136.50C461.52 138.90 462.23 140.75 463.40 143.40C464.57 146.05 465.67 149.20 466.80 152.40C467.93 155.60 469.07 159.20 470.20 162.60C471.33 166.00 472.57 169.42 473.60 172.80C474.63 176.18 475.57 179.52 476.40 182.90C477.23 186.28 477.85 189.80 478.60 193.10C479.35 196.40 480.33 200.63 480.90 202.70C481.47 204.77 481.43 205.60 482.00 205.50C482.57 205.40 483.45 204.17 484.30 202.10C485.15 200.03 486.17 196.48 487.10 193.10C488.03 189.72 488.95 185.57 489.90 181.80C490.85 178.03 491.75 173.88 492.80 170.50C493.85 167.12 494.98 164.52 496.20 161.50C497.42 158.48 498.37 155.75 500.10 152.40C501.83 149.05 504.40 144.33 506.60 141.40C508.80 138.47 510.53 137.28 513.30 134.80C516.07 132.32 519.60 128.85 523.20 126.50C526.80 124.15 531.02 122.23 534.90 120.70C538.78 119.17 542.92 118.27 546.50 117.30C550.08 116.33 552.80 115.53 556.40 114.90C560.00 114.27 563.43 113.83 568.10 113.50C572.77 113.17 581.68 113.00 584.40 112.90" stroke="#111" stroke-width="1.6" fill="none" stroke-dasharray="5.2 4.8" clip-path="url(#clipb)"/>
<path d="M327.50 52.40C329.30 53.23 334.57 55.73 338.30 57.40C342.03 59.07 346.03 60.47 349.90 62.40C353.77 64.33 357.62 66.65 361.50 69.00C365.38 71.35 369.32 73.87 373.20 76.50C377.08 79.13 381.20 81.88 384.80 84.80C388.40 87.72 392.00 90.92 394.80 94.00C397.60 97.08 399.35 98.43 401.60 103.30C403.85 108.17 406.08 116.83 408.30 123.20C410.52 129.57 412.68 135.97 414.90 141.50C417.12 147.03 419.52 153.08 421.60 156.40C423.68 159.72 425.47 160.98 427.40 161.40C429.33 161.82 431.12 160.55 433.20 158.90C435.28 157.25 437.68 154.68 439.90 151.50C442.12 148.32 444.30 143.68 446.50 139.80C448.70 135.92 450.62 131.80 453.10 128.20C455.58 124.60 458.62 120.42 461.40 118.20C464.18 115.98 467.02 115.12 469.80 114.90C472.58 114.68 475.33 115.78 478.10 116.90C480.87 118.02 484.42 120.55 486.40 121.60C488.38 122.65 488.02 122.12 490.00 123.20C491.98 124.28 495.53 126.03 498.30 128.10C501.07 130.17 503.83 133.52 506.60 135.60C509.37 137.68 512.13 139.48 514.90 140.60C517.67 141.72 520.43 142.58 523.20 142.30C525.97 142.02 528.73 140.98 531.50 138.90C534.27 136.82 537.03 133.40 539.80 129.80C542.57 126.20 545.33 121.03 548.10 117.30C550.87 113.57 553.62 110.17 556.40 107.40C559.18 104.63 562.02 102.65 564.80 100.70C567.58 98.75 569.83 97.30 573.10 95.70C576.37 94.10 582.52 91.87 584.40 91.10" stroke="#1010ff" stroke-width="1.6" fill="none" stroke-dasharray="4.2 2.6 1.2 2.4 1.2 3.4" clip-path="url(#clipb)"/>
<path d="M33.00 326.60C34.17 327.43 37.18 329.67 40.00 331.60C42.82 333.53 46.58 335.85 49.90 338.20C53.22 340.55 56.57 342.80 59.90 345.70C63.23 348.60 66.85 352.15 69.90 355.60C72.95 359.05 75.72 362.93 78.20 366.40C80.68 369.87 82.58 372.80 84.80 376.40C87.02 380.00 89.53 384.08 91.50 388.00C93.47 391.92 94.63 395.15 96.60 399.90C98.57 404.65 101.35 410.97 103.30 416.50C105.25 422.03 106.63 427.28 108.30 433.10C109.97 438.92 111.92 446.13 113.30 451.40C114.68 456.67 115.83 462.22 116.60 464.70C117.37 467.18 117.35 466.58 117.90 466.30C118.45 466.02 118.73 466.03 119.90 463.00C121.07 459.97 122.97 453.08 124.90 448.10C126.83 443.12 129.02 437.53 131.50 433.10C133.98 428.67 137.03 424.68 139.80 421.50C142.57 418.32 145.33 415.85 148.10 414.00C150.87 412.15 153.90 411.15 156.40 410.40C158.90 409.65 160.32 409.32 163.10 409.50C165.88 409.68 169.78 410.20 173.10 411.50C176.42 412.80 179.85 414.98 183.00 417.30C186.15 419.62 189.63 422.45 192.00 425.40C194.37 428.35 195.47 431.37 197.20 435.00C198.93 438.63 200.65 442.55 202.40 447.20C204.15 451.85 206.23 458.83 207.70 462.90C209.17 466.97 210.33 469.70 211.20 471.60C212.07 473.50 212.18 474.30 212.90 474.30C213.62 474.30 214.33 474.37 215.50 471.60C216.67 468.83 218.00 463.80 219.90 457.70C221.80 451.60 224.28 441.98 226.90 435.00C229.52 428.02 232.40 421.47 235.60 415.80C238.80 410.13 242.62 404.92 246.10 401.00C249.58 397.08 253.02 394.77 256.50 392.30C259.98 389.83 263.52 387.72 267.00 386.20C270.48 384.68 273.53 383.87 277.40 383.20C281.27 382.53 288.07 382.37 290.20 382.20" stroke="#ff0000" stroke-width="1.7" fill="none" clip-path="url(#clipc)"/>
<path d="M33.00 316.60C33.88 317.57 36.03 320.05 38.30 322.40C40.57 324.75 43.55 327.78 46.60 330.70C49.65 333.62 53.28 336.57 56.60 339.90C59.92 343.23 63.18 347.25 66.50 350.70C69.82 354.15 73.17 357.42 76.50 360.60C79.83 363.78 83.18 367.30 86.50 369.80C89.82 372.30 93.08 373.95 96.40 375.60C99.72 377.25 103.07 378.18 106.40 379.70C109.73 381.22 113.05 382.85 116.40 384.70C119.75 386.55 123.15 388.68 126.50 390.80C129.85 392.92 133.72 395.33 136.50 397.40C139.28 399.47 141.27 401.12 143.20 403.20C145.13 405.28 146.45 407.40 148.10 409.90C149.75 412.40 151.43 415.17 153.10 418.20C154.77 421.23 156.43 424.50 158.10 428.10C159.77 431.70 161.43 435.92 163.10 439.80C164.77 443.68 166.58 447.53 168.10 451.40C169.62 455.27 171.10 460.37 172.20 463.00C173.30 465.63 173.45 468.03 174.70 467.20C175.95 466.37 178.03 461.47 179.70 458.00C181.37 454.53 182.95 450.23 184.70 446.40C186.45 442.57 188.40 438.20 190.20 435.00C192.00 431.80 193.47 429.67 195.50 427.20C197.53 424.73 199.78 422.53 202.40 420.20C205.02 417.87 208.28 415.10 211.20 413.20C214.12 411.30 216.70 410.10 219.90 408.80C223.10 407.50 226.92 406.42 230.40 405.40C233.88 404.38 237.32 403.43 240.80 402.70C244.28 401.97 247.82 401.58 251.30 401.00C254.78 400.42 258.22 399.78 261.70 399.20C265.18 398.62 269.00 398.22 272.20 397.50C275.40 396.78 277.90 395.68 280.90 394.90C283.90 394.12 288.65 393.15 290.20 392.80" stroke="#111" stroke-width="1.6" fill="none" stroke-dasharray="5.2 4.8" clip-path="url(#clipc)"/>
<path d="M327.50 316.60C328.75 317.98 332.37 322.27 335.00 324.90C337.63 327.53 340.53 329.77 343.30 332.40C346.07 335.03 348.83 337.52 351.60 340.70C354.37 343.88 357.42 348.03 359.90 351.50C362.38 354.97 364.57 358.18 366.50 361.50C368.43 364.82 369.83 367.53 371.50 371.40C373.17 375.27 375.08 380.23 376.50 384.70C377.92 389.17 378.58 393.45 380.00 398.20C381.42 402.95 383.48 408.90 385.00 413.20C386.52 417.50 387.87 421.65 389.10 424.00C390.33 426.35 391.15 427.03 392.40 427.30C393.65 427.57 394.80 426.85 396.60 425.60C398.40 424.35 400.98 421.18 403.20 419.80C405.42 418.42 407.93 417.73 409.90 417.30C411.87 416.87 413.40 417.40 415.00 417.20C416.60 417.00 418.00 416.60 419.50 416.10C421.00 415.60 422.62 414.83 424.00 414.20C425.38 413.57 426.42 413.18 427.80 412.30C429.18 411.42 430.67 410.02 432.30 408.90C433.93 407.78 435.72 406.67 437.60 405.60C439.48 404.53 441.58 403.38 443.60 402.50C445.62 401.62 447.80 400.87 449.70 400.30C451.60 399.73 453.33 399.32 455.00 399.10C456.67 398.88 457.82 398.93 459.70 399.00C461.58 399.07 464.58 399.27 466.30 399.50C468.02 399.73 468.28 399.80 470.00 400.40C471.72 401.00 474.12 401.53 476.60 403.10C479.08 404.67 482.50 407.17 484.90 409.80C487.30 412.43 489.32 415.88 491.00 418.90C492.68 421.92 493.68 424.57 495.00 427.90C496.32 431.23 497.75 435.40 498.90 438.90C500.05 442.40 500.98 445.75 501.90 448.90C502.82 452.05 503.77 455.95 504.40 457.80C505.03 459.65 505.20 460.00 505.70 460.00C506.20 460.00 506.70 459.98 507.40 457.80C508.10 455.62 508.98 450.88 509.90 446.90C510.82 442.92 511.73 438.07 512.90 433.90C514.07 429.73 515.40 425.72 516.90 421.90C518.40 418.08 520.32 414.40 521.90 411.00C523.48 407.60 525.05 403.95 526.40 401.50C527.75 399.05 528.57 398.42 530.00 396.30C531.43 394.18 533.00 391.22 535.00 388.80C537.00 386.38 539.52 383.87 542.00 381.80C544.48 379.73 546.92 378.05 549.90 376.40C552.88 374.75 556.57 373.07 559.90 371.90C563.23 370.73 565.82 369.98 569.90 369.40C573.98 368.82 581.98 368.57 584.40 368.40" stroke="#ff0000" stroke-width="1.7" fill="none" clip-path="url(#clipd)"/>
<path d="M327.50 305.80C328.75 307.33 332.37 312.37 335.00 315.00C337.63 317.63 340.53 319.12 343.30 321.60C346.07 324.08 348.83 326.85 351.60 329.90C354.37 332.95 357.13 336.58 359.90 339.90C362.67 343.22 365.68 346.25 368.20 349.80C370.72 353.35 372.48 357.57 375.00 361.20C377.52 364.83 380.53 368.20 383.30 371.60C386.07 375.00 388.83 378.27 391.60 381.60C394.37 384.93 397.13 388.70 399.90 391.60C402.67 394.50 405.30 397.05 408.20 399.00C411.10 400.95 415.22 402.08 417.30 403.30C419.38 404.52 419.52 405.12 420.70 406.30C421.88 407.48 423.33 409.27 424.40 410.40C425.47 411.53 426.10 411.72 427.10 413.10C428.10 414.48 429.47 417.13 430.40 418.70C431.33 420.27 432.00 420.92 432.70 422.50C433.40 424.08 433.97 426.57 434.60 428.20C435.23 429.83 435.93 430.67 436.50 432.30C437.07 433.93 437.50 436.55 438.00 438.00C438.50 439.45 439.00 439.82 439.50 441.00C440.00 442.18 440.43 443.97 441.00 445.10C441.57 446.23 442.08 447.87 442.90 447.80C443.72 447.73 445.08 445.97 445.90 444.70C446.72 443.43 447.17 441.95 447.80 440.20C448.43 438.45 449.02 435.95 449.70 434.20C450.38 432.45 451.15 431.72 451.90 429.70C452.65 427.68 453.18 424.58 454.20 422.10C455.22 419.62 456.25 417.40 458.00 414.80C459.75 412.20 462.70 408.57 464.70 406.50C466.70 404.43 468.30 403.52 470.00 402.40C471.70 401.28 472.68 400.52 474.90 399.80C477.12 399.08 480.52 397.82 483.30 398.10C486.08 398.38 488.83 399.97 491.60 401.50C494.37 403.03 497.83 405.72 499.90 407.30C501.97 408.88 502.57 409.80 504.00 411.00C505.43 412.20 507.00 413.90 508.50 414.50C510.00 415.10 511.75 415.18 513.00 414.60C514.25 414.02 514.58 412.92 516.00 411.00C517.42 409.08 519.48 406.07 521.50 403.10C523.52 400.13 525.85 396.67 528.10 393.20C530.35 389.73 532.68 385.43 535.00 382.30C537.32 379.17 539.83 376.55 542.00 374.40C544.17 372.25 545.85 370.98 548.00 369.40C550.15 367.82 552.42 366.23 554.90 364.90C557.38 363.57 560.07 362.48 562.90 361.40C565.73 360.32 568.32 359.23 571.90 358.40C575.48 357.57 582.32 356.73 584.40 356.40" stroke="#111" stroke-width="1.6" fill="none" stroke-dasharray="5.2 4.8" clip-path="url(#clipd)"/>
<path d="M327.50 315.80C328.75 317.18 332.37 321.33 335.00 324.10C337.63 326.87 340.53 329.50 343.30 332.40C346.07 335.30 348.83 338.03 351.60 341.50C354.37 344.97 357.42 349.60 359.90 353.20C362.38 356.80 364.82 361.00 366.50 363.10C368.18 365.20 368.32 363.55 370.00 365.80C371.68 368.05 374.38 373.13 376.60 376.60C378.82 380.07 381.08 383.55 383.30 386.60C385.52 389.65 387.68 392.27 389.90 394.90C392.12 397.53 394.38 399.92 396.60 402.40C398.82 404.88 400.98 407.45 403.20 409.80C405.42 412.15 407.80 413.95 409.90 416.50C412.00 419.05 414.27 422.60 415.80 425.10C417.33 427.60 417.98 429.30 419.10 431.50C420.22 433.70 421.60 436.63 422.50 438.30C423.40 439.97 423.73 440.62 424.50 441.50C425.27 442.38 426.12 444.00 427.10 443.60C428.08 443.20 429.40 440.85 430.40 439.10C431.40 437.35 432.33 434.80 433.10 433.10C433.87 431.40 434.32 430.48 435.00 428.90C435.68 427.32 436.33 425.42 437.20 423.60C438.07 421.78 439.13 419.82 440.20 418.00C441.27 416.18 442.47 414.33 443.60 412.70C444.73 411.07 445.80 409.65 447.00 408.20C448.20 406.75 449.67 405.07 450.80 404.00C451.93 402.93 452.87 402.48 453.80 401.80C454.73 401.12 454.87 400.78 456.40 399.90C457.93 399.02 460.73 397.47 463.00 396.50C465.27 395.53 468.28 394.33 470.00 394.10C471.72 393.87 471.65 394.70 473.30 395.10C474.95 395.50 477.42 395.43 479.90 396.50C482.38 397.57 485.70 399.57 488.20 401.50C490.70 403.43 492.68 405.33 494.90 408.10C497.12 410.87 499.50 415.45 501.50 418.10C503.50 420.75 504.95 424.28 506.90 424.00C508.85 423.72 511.33 419.33 513.20 416.40C515.07 413.47 516.17 410.00 518.10 406.40C520.03 402.80 522.58 398.38 524.80 394.80C527.02 391.22 529.18 387.95 531.40 384.90C533.62 381.85 535.60 379.00 538.10 376.50C540.60 374.00 543.60 372.00 546.40 369.90C549.20 367.80 552.15 365.48 554.90 363.90C557.65 362.32 560.07 361.43 562.90 360.40C565.73 359.37 568.32 358.42 571.90 357.70C575.48 356.98 582.32 356.37 584.40 356.10" stroke="#00ee00" stroke-width="2.0" fill="none" stroke-dasharray="2 2.6" stroke-linecap="butt" clip-path="url(#clipd)"/>
<path d="M33.30 585.30C34.08 586.07 36.33 588.02 38.00 589.90C39.67 591.78 41.53 594.15 43.30 596.60C45.07 599.05 46.83 601.95 48.60 604.60C50.37 607.25 52.35 609.85 53.90 612.50C55.45 615.15 56.57 617.62 57.90 620.50C59.23 623.38 60.45 626.55 61.90 629.80C63.35 633.05 64.98 636.08 66.60 640.00C68.22 643.92 69.93 648.88 71.60 653.30C73.27 657.72 75.27 663.73 76.60 666.50C77.93 669.27 78.22 669.75 79.60 669.90C80.98 670.05 82.92 668.18 84.90 667.40C86.88 666.62 89.28 665.35 91.50 665.20C93.72 665.05 95.98 665.58 98.20 666.50C100.42 667.42 102.32 668.75 104.80 670.70C107.28 672.65 110.33 675.57 113.10 678.20C115.87 680.83 118.63 683.87 121.40 686.50C124.17 689.13 126.93 692.15 129.70 694.00C132.47 695.85 135.50 697.27 138.00 697.60C140.50 697.93 142.98 696.75 144.70 696.00C146.42 695.25 146.32 694.13 148.30 693.10C150.28 692.07 153.83 690.68 156.60 689.80C159.37 688.92 162.13 688.13 164.90 687.80C167.67 687.47 170.43 687.47 173.20 687.80C175.97 688.13 178.73 688.63 181.50 689.80C184.27 690.97 187.03 692.87 189.80 694.80C192.57 696.73 195.57 699.48 198.10 701.40C200.63 703.32 203.02 704.98 205.00 706.30C206.98 707.62 208.32 709.30 210.00 709.30C211.68 709.30 213.42 707.97 215.10 706.30C216.78 704.63 218.43 701.80 220.10 699.30C221.77 696.80 223.42 693.90 225.10 691.30C226.78 688.70 228.52 686.08 230.20 683.70C231.88 681.32 233.57 679.03 235.20 677.00C236.83 674.97 238.33 673.28 240.00 671.50C241.67 669.72 243.33 668.00 245.20 666.30C247.07 664.60 249.18 662.78 251.20 661.30C253.22 659.82 255.13 658.55 257.30 657.40C259.47 656.25 261.90 655.22 264.20 654.40C266.50 653.58 268.80 653.02 271.10 652.50C273.40 651.98 275.70 651.57 278.00 651.30C280.30 651.03 282.87 650.97 284.90 650.90C286.93 650.83 289.32 650.90 290.20 650.90" stroke="#ff0000" stroke-width="1.7" fill="none" clip-path="url(#clipe)"/>
<path d="M33.30 579.30C34.08 580.18 36.33 582.38 38.00 584.60C39.67 586.82 41.53 589.93 43.30 592.60C45.07 595.27 46.83 597.95 48.60 600.60C50.37 603.25 52.35 605.85 53.90 608.50C55.45 611.15 56.57 613.62 57.90 616.50C59.23 619.38 60.57 622.70 61.90 625.80C63.23 628.90 64.57 632.00 65.90 635.10C67.23 638.20 68.67 641.65 69.90 644.40C71.13 647.15 71.92 648.18 73.30 651.60C74.68 655.02 76.55 661.02 78.20 664.90C79.85 668.78 81.95 673.10 83.20 674.90C84.45 676.70 84.58 675.93 85.70 675.70C86.82 675.47 88.10 675.03 89.90 673.50C91.70 671.97 94.28 668.63 96.50 666.50C98.72 664.37 100.70 662.22 103.20 660.70C105.70 659.18 109.02 657.95 111.50 657.40C113.98 656.85 115.88 656.57 118.10 657.40C120.32 658.23 122.30 660.60 124.80 662.40C127.30 664.20 130.57 665.85 133.10 668.20C135.63 670.55 137.75 674.28 140.00 676.50C142.25 678.72 144.38 680.25 146.60 681.50C148.82 682.75 150.80 684.57 153.30 684.00C155.80 683.43 158.55 680.18 161.60 678.10C164.65 676.02 168.55 673.15 171.60 671.50C174.65 669.85 177.13 668.95 179.90 668.20C182.67 667.45 185.43 666.87 188.20 667.00C190.97 667.13 193.73 667.70 196.50 669.00C199.27 670.30 202.88 673.60 204.80 674.80C206.72 676.00 206.62 675.47 208.00 676.20C209.38 676.93 211.25 678.03 213.10 679.20C214.95 680.37 217.27 683.20 219.10 683.20C220.93 683.20 222.43 681.03 224.10 679.20C225.77 677.37 227.25 674.88 229.10 672.20C230.95 669.52 233.38 665.78 235.20 663.10C237.02 660.42 238.48 657.98 240.00 656.10C241.52 654.22 242.72 653.23 244.30 651.80C245.88 650.37 247.63 648.95 249.50 647.50C251.37 646.05 253.33 644.62 255.50 643.10C257.67 641.58 259.90 639.83 262.50 638.40C265.10 636.97 268.23 635.47 271.10 634.50C273.97 633.53 276.52 632.95 279.70 632.60C282.88 632.25 288.45 632.43 290.20 632.40" stroke="#111" stroke-width="1.6" fill="none" stroke-dasharray="5.2 4.8" clip-path="url(#clipe)"/>
<path d="M33.30 591.90C33.85 592.90 35.38 595.57 36.60 597.90C37.82 600.23 39.27 603.02 40.60 605.90C41.93 608.78 43.27 611.88 44.60 615.20C45.93 618.52 47.27 622.27 48.60 625.80C49.93 629.33 51.27 632.85 52.60 636.40C53.93 639.95 55.10 642.63 56.60 647.10C58.10 651.57 60.07 658.57 61.60 663.20C63.13 667.83 64.55 671.85 65.80 674.90C67.05 677.95 67.58 680.95 69.10 681.50C70.62 682.05 72.82 679.45 74.90 678.20C76.98 676.95 79.10 674.97 81.60 674.00C84.10 673.03 87.42 672.25 89.90 672.40C92.38 672.55 94.28 673.38 96.50 674.90C98.72 676.42 100.98 679.02 103.20 681.50C105.42 683.98 107.87 686.48 109.80 689.80C111.73 693.12 113.45 698.18 114.80 701.40C116.15 704.62 116.90 706.35 117.90 709.10C118.90 711.85 120.03 715.13 120.80 717.90C121.57 720.67 121.80 722.80 122.50 725.70C123.20 728.60 124.38 732.97 125.00 735.30C125.62 737.63 125.55 738.52 126.20 739.70C126.85 740.88 128.13 742.93 128.90 742.40C129.67 741.87 130.22 738.45 130.80 736.50C131.38 734.55 131.85 732.70 132.40 730.70C132.95 728.70 133.55 726.43 134.10 724.50C134.65 722.57 135.02 720.90 135.70 719.10C136.38 717.30 137.40 715.27 138.20 713.70C139.00 712.13 139.37 711.75 140.50 709.70C141.63 707.65 143.15 703.88 145.00 701.40C146.85 698.92 149.12 696.73 151.60 694.80C154.08 692.87 157.13 690.63 159.90 689.80C162.67 688.97 165.43 689.25 168.20 689.80C170.97 690.35 173.72 691.45 176.50 693.10C179.28 694.75 182.40 697.48 184.90 699.70C187.40 701.92 189.57 704.18 191.50 706.40C193.43 708.62 194.78 710.90 196.50 713.00C198.22 715.10 200.22 718.60 201.80 719.00C203.38 719.40 204.62 717.35 206.00 715.40C207.38 713.45 208.75 710.15 210.10 707.30C211.45 704.45 212.77 701.13 214.10 698.30C215.43 695.47 216.77 692.98 218.10 690.30C219.43 687.62 220.60 684.55 222.10 682.20C223.60 679.85 225.25 678.03 227.10 676.20C228.95 674.37 231.05 672.82 233.20 671.20C235.35 669.58 238.00 668.15 240.00 666.50C242.00 664.85 243.33 662.88 245.20 661.30C247.07 659.72 249.18 658.23 251.20 657.00C253.22 655.77 255.13 654.77 257.30 653.90C259.47 653.03 261.90 652.42 264.20 651.80C266.50 651.18 268.80 650.67 271.10 650.20C273.40 649.73 274.82 649.32 278.00 649.00C281.18 648.68 288.17 648.42 290.20 648.30" stroke="#00ee00" stroke-width="2.0" fill="none" stroke-dasharray="2 2.6" stroke-linecap="butt" clip-path="url(#clipe)"/>
<path d="M33.30 572.00C34.08 572.67 36.33 574.23 38.00 576.00C39.67 577.77 41.53 579.95 43.30 582.60C45.07 585.25 47.05 588.68 48.60 591.90C50.15 595.12 51.27 598.47 52.60 601.90C53.93 605.33 55.27 608.95 56.60 612.50C57.93 616.05 59.27 619.87 60.60 623.20C61.93 626.53 63.28 629.85 64.60 632.50C65.92 635.15 66.95 637.33 68.50 639.10C70.05 640.87 72.00 641.85 73.90 643.10C75.80 644.35 76.97 645.60 79.90 646.60C82.83 647.60 87.62 648.27 91.50 649.10C95.38 649.93 99.60 650.63 103.20 651.60C106.80 652.57 110.07 653.65 113.10 654.90C116.13 656.15 118.63 657.43 121.40 659.10C124.17 660.77 127.20 663.10 129.70 664.90C132.20 666.70 134.18 668.73 136.40 669.90C138.62 671.07 140.73 671.58 143.00 671.90C145.27 672.22 147.18 671.92 150.00 671.80C152.82 671.68 156.58 671.45 159.90 671.20C163.22 670.95 166.85 670.53 169.90 670.30C172.95 670.07 175.43 669.60 178.20 669.80C180.97 670.00 183.73 670.38 186.50 671.50C189.27 672.62 192.55 675.05 194.80 676.50C197.05 677.95 198.13 679.25 200.00 680.20C201.87 681.15 204.15 681.67 206.00 682.20C207.85 682.73 209.42 683.48 211.10 683.40C212.78 683.32 214.43 682.90 216.10 681.70C217.77 680.50 219.27 678.30 221.10 676.20C222.93 674.10 225.08 671.45 227.10 669.10C229.12 666.75 231.05 664.48 233.20 662.10C235.35 659.72 237.87 656.95 240.00 654.80C242.13 652.65 243.83 650.93 246.00 649.20C248.17 647.47 250.68 645.70 253.00 644.40C255.32 643.10 257.47 642.27 259.90 641.40C262.33 640.53 264.87 639.85 267.60 639.20C270.33 638.55 272.53 638.00 276.30 637.50C280.07 637.00 287.88 636.42 290.20 636.20" stroke="#118811" stroke-width="1.6" fill="none" stroke-dasharray="5 2.8 1.4 2.8" clip-path="url(#clipe)"/>
<path d="M327.40 590.60C328.10 591.72 330.00 594.87 331.60 597.30C333.20 599.73 335.22 602.10 337.00 605.20C338.78 608.30 340.53 612.13 342.30 615.90C344.07 619.67 345.83 623.60 347.60 627.80C349.37 632.00 351.40 636.57 352.90 641.10C354.40 645.63 355.15 650.20 356.60 655.00C358.05 659.80 359.93 665.48 361.60 669.90C363.27 674.32 364.93 678.95 366.60 681.50C368.27 684.05 369.67 684.42 371.60 685.20C373.53 685.98 375.98 685.70 378.20 686.20C380.42 686.70 382.40 687.18 384.90 688.20C387.40 689.22 390.43 690.65 393.20 692.30C395.97 693.95 398.73 696.02 401.50 698.10C404.27 700.18 407.32 702.58 409.80 704.80C412.28 707.02 414.18 708.92 416.40 711.40C418.62 713.88 420.88 716.65 423.10 719.70C425.32 722.75 427.48 726.65 429.70 729.70C431.92 732.75 434.45 736.40 436.40 738.00C438.35 739.60 439.70 739.58 441.40 739.30C443.10 739.02 444.62 737.90 446.60 736.30C448.58 734.70 450.80 731.90 453.30 729.70C455.80 727.50 458.83 724.90 461.60 723.10C464.37 721.30 467.13 719.80 469.90 718.90C472.67 718.00 475.43 717.62 478.20 717.70C480.97 717.78 483.73 718.50 486.50 719.40C489.27 720.30 492.03 722.00 494.80 723.10C497.57 724.20 500.33 725.32 503.10 726.00C505.87 726.68 508.63 727.55 511.40 727.20C514.17 726.85 517.25 725.20 519.70 723.90C522.15 722.60 523.78 721.50 526.10 719.40C528.42 717.30 531.08 713.82 533.60 711.30C536.12 708.78 538.50 706.47 541.20 704.30C543.90 702.13 546.73 700.20 549.80 698.30C552.87 696.40 556.17 694.37 559.60 692.90C563.03 691.43 566.27 690.30 570.40 689.50C574.53 688.70 582.07 688.33 584.40 688.10" stroke="#ff0000" stroke-width="1.7" fill="none" clip-path="url(#clipf)"/>
<path d="M327.40 588.00C328.10 589.33 330.00 593.13 331.60 596.00C333.20 598.87 335.22 602.10 337.00 605.20C338.78 608.30 340.53 610.60 342.30 614.60C344.07 618.60 345.83 624.55 347.60 629.20C349.37 633.85 351.35 638.30 352.90 642.50C354.45 646.70 355.17 650.12 356.90 654.40C358.63 658.68 361.13 664.78 363.30 668.20C365.47 671.62 367.68 673.83 369.90 674.90C372.12 675.97 374.10 675.15 376.60 674.60C379.10 674.05 381.85 672.25 384.90 671.60C387.95 670.95 391.58 670.28 394.90 670.70C398.22 671.12 401.48 672.57 404.80 674.10C408.12 675.63 411.75 677.28 414.80 679.90C417.85 682.52 420.33 686.48 423.10 689.80C425.87 693.12 428.92 696.75 431.40 699.80C433.88 702.85 435.47 706.17 438.00 708.10C440.53 710.03 444.05 711.53 446.60 711.40C449.15 711.27 450.80 709.23 453.30 707.30C455.80 705.37 458.83 702.02 461.60 699.80C464.37 697.58 467.13 695.60 469.90 694.00C472.67 692.40 475.15 691.03 478.20 690.20C481.25 689.37 485.15 688.78 488.20 689.00C491.25 689.22 493.47 690.25 496.50 691.50C499.53 692.75 503.35 694.78 506.40 696.50C509.45 698.22 512.30 700.63 514.80 701.80C517.30 702.97 519.07 703.72 521.40 703.50C523.73 703.28 526.40 702.27 528.80 700.50C531.20 698.73 533.37 695.33 535.80 692.90C538.23 690.47 540.88 688.05 543.40 685.90C545.92 683.75 548.20 682.07 550.90 680.00C553.60 677.93 556.35 675.40 559.60 673.50C562.85 671.60 567.17 669.72 570.40 668.60C573.63 667.48 576.67 667.22 579.00 666.80C581.33 666.38 583.50 666.22 584.40 666.10" stroke="#111" stroke-width="1.6" fill="none" stroke-dasharray="5.2 4.8" clip-path="url(#clipf)"/>
<path d="M327.40 596.00C328.10 597.32 330.00 600.80 331.60 603.90C333.20 607.00 335.22 611.05 337.00 614.60C338.78 618.15 340.53 621.67 342.30 625.20C344.07 628.73 345.83 632.27 347.60 635.80C349.37 639.33 351.12 642.93 352.90 646.40C354.68 649.87 356.28 652.68 358.30 656.60C360.32 660.52 362.78 666.43 365.00 669.90C367.22 673.37 369.40 675.60 371.60 677.40C373.80 679.20 375.72 679.78 378.20 680.70C380.68 681.62 383.72 682.20 386.50 682.90C389.28 683.60 392.12 684.02 394.90 684.90C397.68 685.78 400.43 686.82 403.20 688.20C405.97 689.58 408.73 690.98 411.50 693.20C414.27 695.42 417.03 698.18 419.80 701.50C422.57 704.82 425.62 709.23 428.10 713.10C430.58 716.97 432.63 721.23 434.70 724.70C436.77 728.17 438.70 732.02 440.50 733.90C442.30 735.78 443.65 736.98 445.50 736.00C447.35 735.02 449.20 730.98 451.60 728.00C454.00 725.02 457.13 720.58 459.90 718.10C462.67 715.62 465.43 714.43 468.20 713.10C470.97 711.77 473.72 710.65 476.50 710.10C479.28 709.55 482.12 709.58 484.90 709.80C487.68 710.02 490.43 710.58 493.20 711.40C495.97 712.22 498.73 713.73 501.50 714.70C504.27 715.67 507.32 716.78 509.80 717.20C512.28 717.62 514.18 717.62 516.40 717.20C518.62 716.78 520.23 716.58 523.10 714.70C525.97 712.82 530.58 708.45 533.60 705.90C536.62 703.35 538.50 701.57 541.20 699.40C543.90 697.23 546.73 694.88 549.80 692.90C552.87 690.92 556.17 689.03 559.60 687.50C563.03 685.97 566.27 684.57 570.40 683.70C574.53 682.83 582.07 682.53 584.40 682.30" stroke="#00ee00" stroke-width="2.0" fill="none" stroke-dasharray="2 2.6" stroke-linecap="butt" clip-path="url(#clipf)"/>
</svg>
</body></html>
